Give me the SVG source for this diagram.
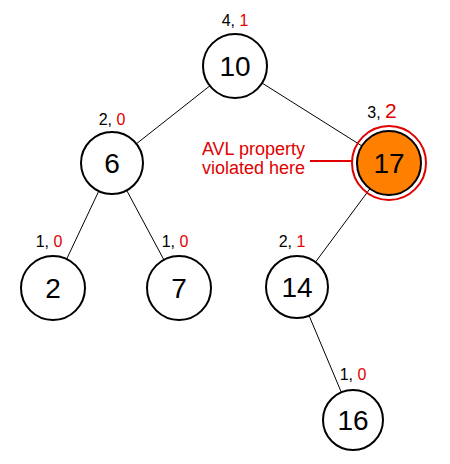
<svg xmlns="http://www.w3.org/2000/svg" width="450" height="464" viewBox="0 0 450 464">
<style>
.n{fill:#fff;stroke:#000;stroke-width:2}
.v{font-family:"Liberation Sans",Arial,sans-serif;font-size:28px;text-anchor:middle;fill:#000}
.l{font-family:"Liberation Sans",Arial,sans-serif;font-size:16px;text-anchor:middle;fill:#000}
.r{fill:#e00000}
.e{stroke:#000;stroke-width:1;fill:none}
</style>
<rect width="450" height="464" fill="#fff"/>
<g id="edges">
<line class="e" x1="235" y1="66" x2="112" y2="163"/>
<line class="e" x1="235" y1="66" x2="389" y2="163"/>
<line class="e" x1="112" y1="163" x2="53" y2="288"/>
<line class="e" x1="112" y1="163" x2="179" y2="288"/>
<line class="e" x1="389" y1="163" x2="297" y2="287"/>
<line class="e" x1="297" y1="287" x2="353" y2="420"/>
</g>
<g id="n10"><circle class="n" cx="235" cy="66" r="32"/><text class="v" x="235" y="76">10</text><text class="l" x="235" y="26">4, <tspan class="r">1</tspan></text></g>
<g id="n6"><circle class="n" cx="112" cy="163" r="31"/><text class="v" x="112" y="173">6</text><text class="l" x="112" y="125">2, <tspan class="r">0</tspan></text></g>
<g id="n17"><circle cx="389" cy="163" r="37" fill="none" stroke="#e00000" stroke-width="2"/><circle class="n" cx="389" cy="163" r="32" style="fill:#ff8000"/><text class="v" x="389" y="173">17</text><text class="l" x="382" y="118">3, <tspan class="r" style="font-size:21px">2</tspan></text></g>
<g id="note"><text font-family="Liberation Sans,Arial,sans-serif" font-size="18" fill="#e00000" text-anchor="end"><tspan x="305" y="155">AVL property</tspan><tspan x="305" y="174">violated here</tspan></text><line x1="310" y1="161" x2="352" y2="161" stroke="#e00000" stroke-width="2"/></g>
<g id="n2"><circle class="n" cx="53" cy="288" r="32"/><text class="v" x="53" y="298">2</text><text class="l" x="49" y="247">1, <tspan class="r">0</tspan></text></g>
<g id="n7"><circle class="n" cx="179" cy="288" r="32"/><text class="v" x="179" y="298">7</text><text class="l" x="175" y="247">1, <tspan class="r">0</tspan></text></g>
<g id="n14"><circle class="n" cx="297" cy="287" r="31"/><text class="v" x="297" y="297">14</text><text class="l" x="292" y="247">2, <tspan class="r">1</tspan></text></g>
<g id="n16"><circle class="n" cx="353" cy="420" r="30"/><text class="v" x="353" y="430">16</text><text class="l" x="353" y="380">1, <tspan class="r">0</tspan></text></g>
</svg>
